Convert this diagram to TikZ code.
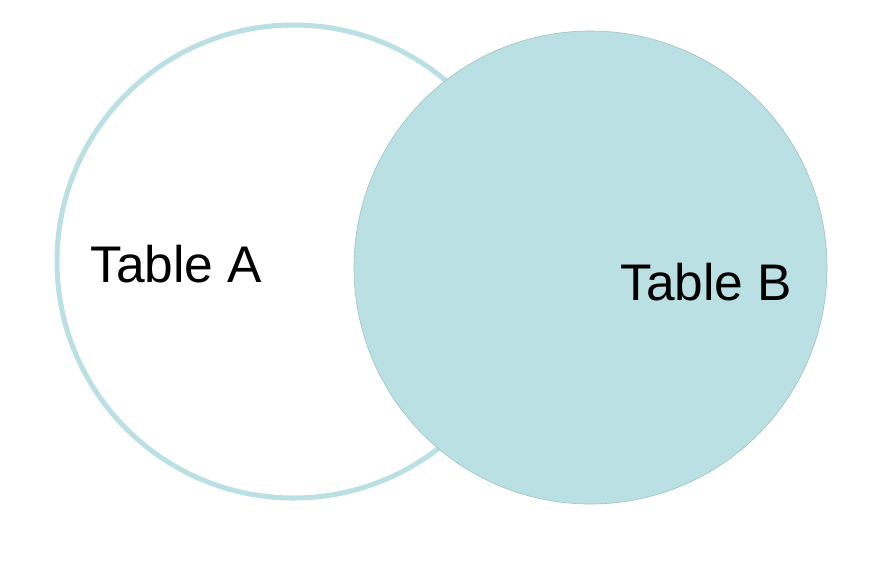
\documentclass[tikz,border=0pt]{standalone}
\usepackage{fontspec}
\setmainfont{Liberation Sans}
\definecolor{venn}{HTML}{BAE0E3}
\definecolor{vennedge}{HTML}{9CC3C6}
\begin{document}
\begin{tikzpicture}[x=1pt,y=-1pt,
  lbl/.style={anchor=base west,inner sep=0pt,font=\fontsize{51.5}{60}\selectfont}]
\useasboundingbox (0,0) rectangle (894,566);
\fill[white] (0,0) rectangle (894,566);
\node[circle,draw=venn,line width=5pt,minimum size=473pt,inner sep=0pt] (A) at (293.5,261.5) {};
\node[circle,fill=venn,draw=vennedge,line width=0.6pt,minimum size=473pt,inner sep=0pt] (B) at (590.5,267.5) {};
\node[lbl] (ta) at (90,282) {Table A};
\node[lbl] (tb) at (620,300) {Table B};
\end{tikzpicture}
\end{document}
